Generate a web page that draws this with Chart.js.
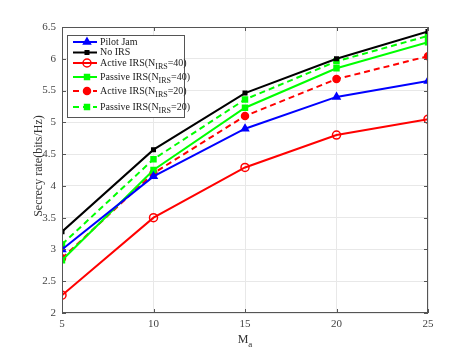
<!DOCTYPE html>
<html>
<head>
<meta charset="utf-8">
<script src="https://cdn.jsdelivr.net/npm/chart.js@4.4.1/dist/chart.umd.min.js"></script>
<style>
  html, body { margin: 0; padding: 0; background: #fff; }
  #wrap { width: 474px; height: 353px; position: relative; }
</style>
</head>
<body>
<div id="wrap"><canvas id="chart" width="474" height="353"></canvas></div>
<script>
// x values (number of antennas M_a)
const antennas = [5, 10, 15, 20, 25];
const yTicks = [2, 2.5, 3, 3.5, 4, 4.5, 5, 5.5, 6, 6.5];

// secrecy rate series
const pilotJam = [3.0, 4.15, 4.9, 5.4, 5.65];
const noIrs = [3.28, 4.57, 5.46, 6.0, 6.43];
const activeIrs40 = [2.28, 3.5, 4.29, 4.8, 5.05];
const passiveIrs40 = [2.83, 4.25, 5.23, 5.85, 6.26];
const activeIrs20 = [2.86, 4.2, 5.1, 5.68, 6.04];
const passiveIrs20 = [3.08, 4.42, 5.36, 5.96, 6.36];

// legend text parts: [before subscript, subscript, after]
const legendNames = [
  ['Pilot Jam', '', ''],
  ['No IRS', '', ''],
  ['Active IRS(N', 'IRS', '=40)'],
  ['Passive IRS(N', 'IRS', '=40)'],
  ['Active IRS(N', 'IRS', '=20)'],
  ['Passive IRS(N', 'IRS', '=20)']
];

const serif = '"Liberation Serif", "DejaVu Serif", serif';

function series(data, color, style, dashed, fill) {
  return {
    data: data.map((v, i) => ({ x: antennas[i], y: v })),
    borderColor: color,
    backgroundColor: fill ? color : '#ffffff',
    pointBackgroundColor: fill ? color : 'rgba(0,0,0,0)',
    pointBorderColor: color,
    pointStyle: style,
    pointRadius: style === 'rect' ? 3.5 : 4,
    pointBorderWidth: 1.5,
    borderWidth: 2,
    borderDash: dashed ? [6, 4] : [],
    tension: 0,
    fill: false
  };
}

const datasets = [
  series(pilotJam, '#0000ff', 'triangle', false, true),
  series(noIrs, '#000000', 'rect', false, true),
  series(activeIrs40, '#ff0000', 'circle', false, false),
  series(passiveIrs40, '#00ff00', 'rect', false, true),
  series(activeIrs20, '#ff0000', 'circle', true, true),
  series(passiveIrs20, '#00ff00', 'rect', true, true)
];
datasets[1].pointRadius = 2.5;
datasets[4].pointRadius = 3.5;

// box, inward ticks, axis titles and legend in MATLAB style
const matlabLook = {
  id: 'matlabLook',
  afterDraw(chart) {
    const ctx = chart.ctx;
    const a = chart.chartArea;
    const xs = chart.scales.x, ys = chart.scales.y;
    ctx.save();
    ctx.strokeStyle = '#555';
    ctx.lineWidth = 1;
    ctx.strokeRect(a.left + 0.5, a.top + 0.5, a.right - a.left - 1, a.bottom - a.top - 1);
    ctx.beginPath();
    antennas.forEach(v => {
      const px = Math.round(xs.getPixelForValue(v)) + 0.5;
      ctx.moveTo(px, a.bottom); ctx.lineTo(px, a.bottom - 4);
      ctx.moveTo(px, a.top); ctx.lineTo(px, a.top + 4);
    });
    yTicks.forEach(v => {
      const py = Math.round(ys.getPixelForValue(v)) + 0.5;
      ctx.moveTo(a.left, py); ctx.lineTo(a.left + 4, py);
      ctx.moveTo(a.right, py); ctx.lineTo(a.right - 4, py);
    });
    ctx.stroke();

    // axis titles
    ctx.fillStyle = '#333';
    ctx.font = '12px ' + serif;
    ctx.textBaseline = 'alphabetic';
    const cx = (a.left + a.right) / 2;
    ctx.textAlign = 'left';
    const mw = ctx.measureText('M').width;
    ctx.fillText('M', cx - mw / 2 - 2, 343);
    ctx.font = '9px ' + serif;
    ctx.fillText('a', cx + mw / 2 - 2, 347);
    ctx.save();
    ctx.translate(42, (a.top + a.bottom) / 2 - 4);
    ctx.rotate(-Math.PI / 2);
    ctx.textAlign = 'center';
    ctx.font = '12px ' + serif;
    ctx.fillText('Secrecy rate(bits/Hz)', 0, 0);
    ctx.restore();

    // legend box
    const lx = 67, ly = 35, lw = 117, lh = 82;
    ctx.fillStyle = '#fff';
    ctx.fillRect(lx, ly, lw, lh);
    ctx.strokeStyle = '#555';
    ctx.strokeRect(lx + 0.5, ly + 0.5, lw, lh);
    const rows = [42, 52.5, 63, 77, 91, 107];
    legendNames.forEach((parts, i) => {
      const ds = chart.data.datasets[i];
      const y = rows[i];
      ctx.save();
      ctx.strokeStyle = ds.borderColor;
      ctx.lineWidth = 2;
      ctx.setLineDash(ds.borderDash);
      ctx.beginPath();
      ctx.moveTo(lx + 6, y); ctx.lineTo(lx + 30, y);
      ctx.stroke();
      ctx.setLineDash([]);
      ctx.fillStyle = ds.pointBackgroundColor;
      ctx.strokeStyle = ds.pointBorderColor;
      ctx.lineWidth = ds.pointBorderWidth;
      Chart.helpers.drawPoint(ctx, { pointStyle: ds.pointStyle, radius: ds.pointRadius, borderWidth: ds.pointBorderWidth, rotation: 0 }, lx + 20, y);
      ctx.restore();
      ctx.fillStyle = '#222';
      ctx.textAlign = 'left';
      ctx.textBaseline = 'middle';
      ctx.font = '10px ' + serif;
      let tx = lx + 33;
      ctx.fillText(parts[0], tx, y);
      tx += ctx.measureText(parts[0]).width;
      if (parts[1]) {
        ctx.font = '8px ' + serif;
        ctx.fillText(parts[1], tx, y + 4);
        tx += ctx.measureText(parts[1]).width;
        ctx.font = '10px ' + serif;
        ctx.fillText(parts[2], tx, y);
      }
    });
    ctx.restore();
  }
};

new Chart(document.getElementById('chart'), {
  type: 'line',
  data: { datasets: datasets },
  options: {
    responsive: false,
    animation: false,
    layout: { padding: { top: 27, right: 46, left: 0, bottom: 0 } },
    plugins: { legend: { display: false }, tooltip: { enabled: false } },
    scales: {
      x: {
        type: 'linear',
        min: 5, max: 25,
        afterBuildTicks: scale => { scale.ticks = antennas.map(v => ({ value: v })); },
        afterFit: scale => { scale.height = 40; },
        grid: { color: '#e8e8e8', drawTicks: false },
        border: { display: false },
        ticks: { padding: 5, color: '#444', font: { family: serif, size: 11 }, maxRotation: 0, callback: v => String(v) }
      },
      y: {
        min: 2, max: 6.5,
        afterBuildTicks: scale => { scale.ticks = yTicks.map(v => ({ value: v })); },
        afterFit: scale => { scale.width = 62; },
        grid: { color: '#e8e8e8', drawTicks: false },
        border: { display: false },
        ticks: { padding: 6, color: '#444', font: { family: serif, size: 11 }, callback: v => String(v) }
      }
    }
  },
  plugins: [matlabLook]
});
</script>
</body>
</html>
